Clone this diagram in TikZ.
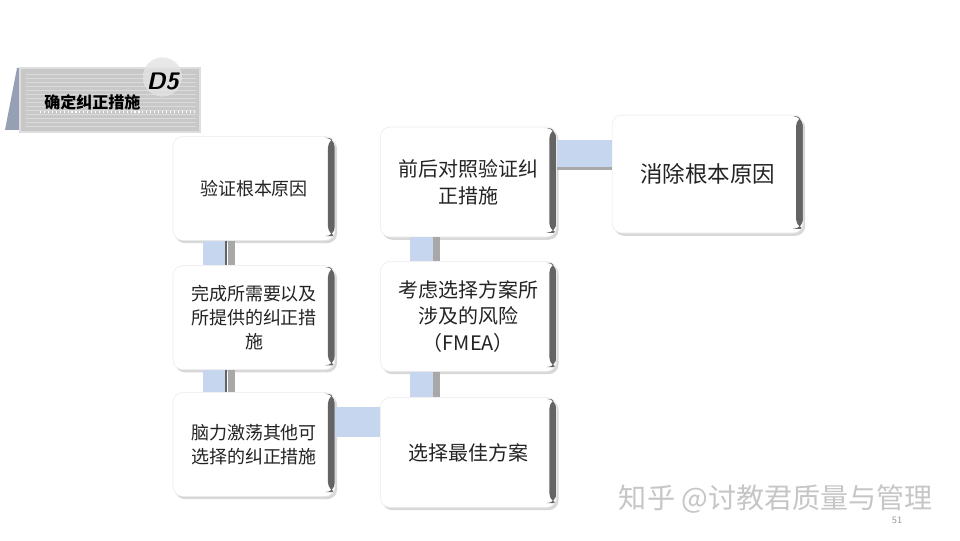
\documentclass[tikz,border=0pt]{standalone}
\usepackage{fontspec}
\newfontfamily\cjk{Noto Sans CJK SC}
\usepackage{tikz}
\usetikzlibrary{shadows}
\definecolor{BarBlue}{RGB}{198,214,238}
\definecolor{BarGray}{RGB}{168,168,168}
\definecolor{EdgeGray}{RGB}{100,100,100}
\definecolor{TxtGray}{RGB}{35,35,35}
\definecolor{TagGray}{RGB}{200,200,200}
\definecolor{TagFold}{RGB}{150,160,180}

\begin{document}
\begin{tikzpicture}[
      sbox/.style={rectangle, rounded corners=7pt, fill=white, draw=black!8,
                   text=TxtGray, align=center, inner sep=0pt,
                   drop shadow={shadow xshift=1.5pt, shadow yshift=-2pt, opacity=0.3},
                   path picture={\fill[EdgeGray]
                     ([xshift=-5pt,yshift=-1pt]path picture bounding box.north east)
                     rectangle ([yshift=3pt]path picture bounding box.south east);}},
      lbox/.style={sbox, minimum width=4.05cm, minimum height=2.6cm,
                   font=\cjk\fontsize{12.8}{17}\selectfont},
      mbox/.style={sbox, minimum width=4.4cm, minimum height=2.75cm,
                   font=\cjk\fontsize{14.2}{19}\selectfont},
      bar/.style={draw=BarBlue},
      stripe/.style={draw=BarGray}
    ]
    \fill[white] (0,0) rectangle (24,13.5);
    \useasboundingbox (0,0) rectangle (24,13.5);

    % tag
    \fill[TagFold] (0.125,10.25) -- (0.425,11.8) -- (0.55,11.8) -- (0.55,10.25) -- cycle;
    \draw[TagGray!60!white, fill=TagGray, line width=1pt] (0.5,10.2) rectangle (5.0,11.8);
    \foreach \y in {10.35,10.45,...,11.7}{
      \draw[white, opacity=0.35, line width=0.3pt] (0.65,\y) -- (4.9,\y);
    }
    \fill[gray!22, opacity=0.8] (4.06,11.575) circle (0.49);
    \draw[white, dotted, line width=0.8pt] (1.0,10.7) -- (4.9,10.7);
    \node[font=\cjk\bfseries\fontsize{11.4}{13}\selectfont] (tag) at (2.31,10.95) {确定纠正措施};
    \node[font=\sffamily\bfseries\itshape\fontsize{17}{19}\selectfont] (dfive) at (4.07,11.47) {D5};

    % boxes
    \node[lbox] (verify)     at (6.35, 8.79) {验证根本原因};
    \node[lbox] (implement)  at (6.35, 5.56) {完成所需要以及\\所提供的纠正措\\施};
    \node[lbox] (brainstorm) at (6.35, 2.39) {脑力激荡其他可\\选择的纠正措施};
    \node[mbox] (confirm)    at (11.71,8.95) {前后对照验证纠\\正措施};
    \node[mbox] (risk)       at (11.71,5.59) {考虑选择方案所\\涉及的风险\\（FMEA）};
    \node[mbox] (choose)     at (11.71,2.19) {选择最佳方案};
    \node[sbox, minimum width=4.775cm, minimum height=2.95cm,
          font=\cjk\fontsize{16}{20}\selectfont] (remove) at (17.69,9.15) {消除根本原因};

    % links
    \foreach \a/\b in {verify/implement, implement/brainstorm}{
      \draw[bar, line width=0.575cm] ([xshift=-0.99cm]\a.south) -- ([xshift=-0.99cm]\b.north);
      \draw[stripe, line width=0.175cm] ([xshift=-0.56cm]\a.south) -- ([xshift=-0.56cm]\b.north);
      \draw[EdgeGray, line width=0.05cm] ([xshift=-0.69cm]\a.south) -- ([xshift=-0.69cm]\b.north);
    }
    \foreach \a/\b in {choose/risk, risk/confirm}{
      \draw[bar, line width=0.575cm] ([xshift=-1.175cm]\a.north) -- ([xshift=-1.175cm]\b.south);
      \draw[stripe, line width=0.175cm] ([xshift=-0.8cm]\a.north) -- ([xshift=-0.8cm]\b.south);
    }
    \draw[bar, line width=0.75cm] ([yshift=0.56cm]brainstorm.east)
          -- ([yshift=0.56cm]brainstorm.east -| choose.west);
    \draw[bar, line width=0.675cm] ([yshift=0.71cm]confirm.east)
          -- ([yshift=0.71cm]confirm.east -| remove.west);
    \draw[stripe, line width=0.08cm] ([yshift=0.34cm]confirm.east)
          -- ([yshift=0.34cm]confirm.east -| remove.west);

    % watermark
    \node[font=\cjk\fontsize{20}{23}\selectfont, text=gray!45] (mark) at (19.4,1.02)
          {知乎 @讨教君质量与管理};
    \node[font=\sffamily\fontsize{7}{8}\selectfont, text=gray!80] (page) at (22.43,0.5) {51};
  \end{tikzpicture}
\end{document}
